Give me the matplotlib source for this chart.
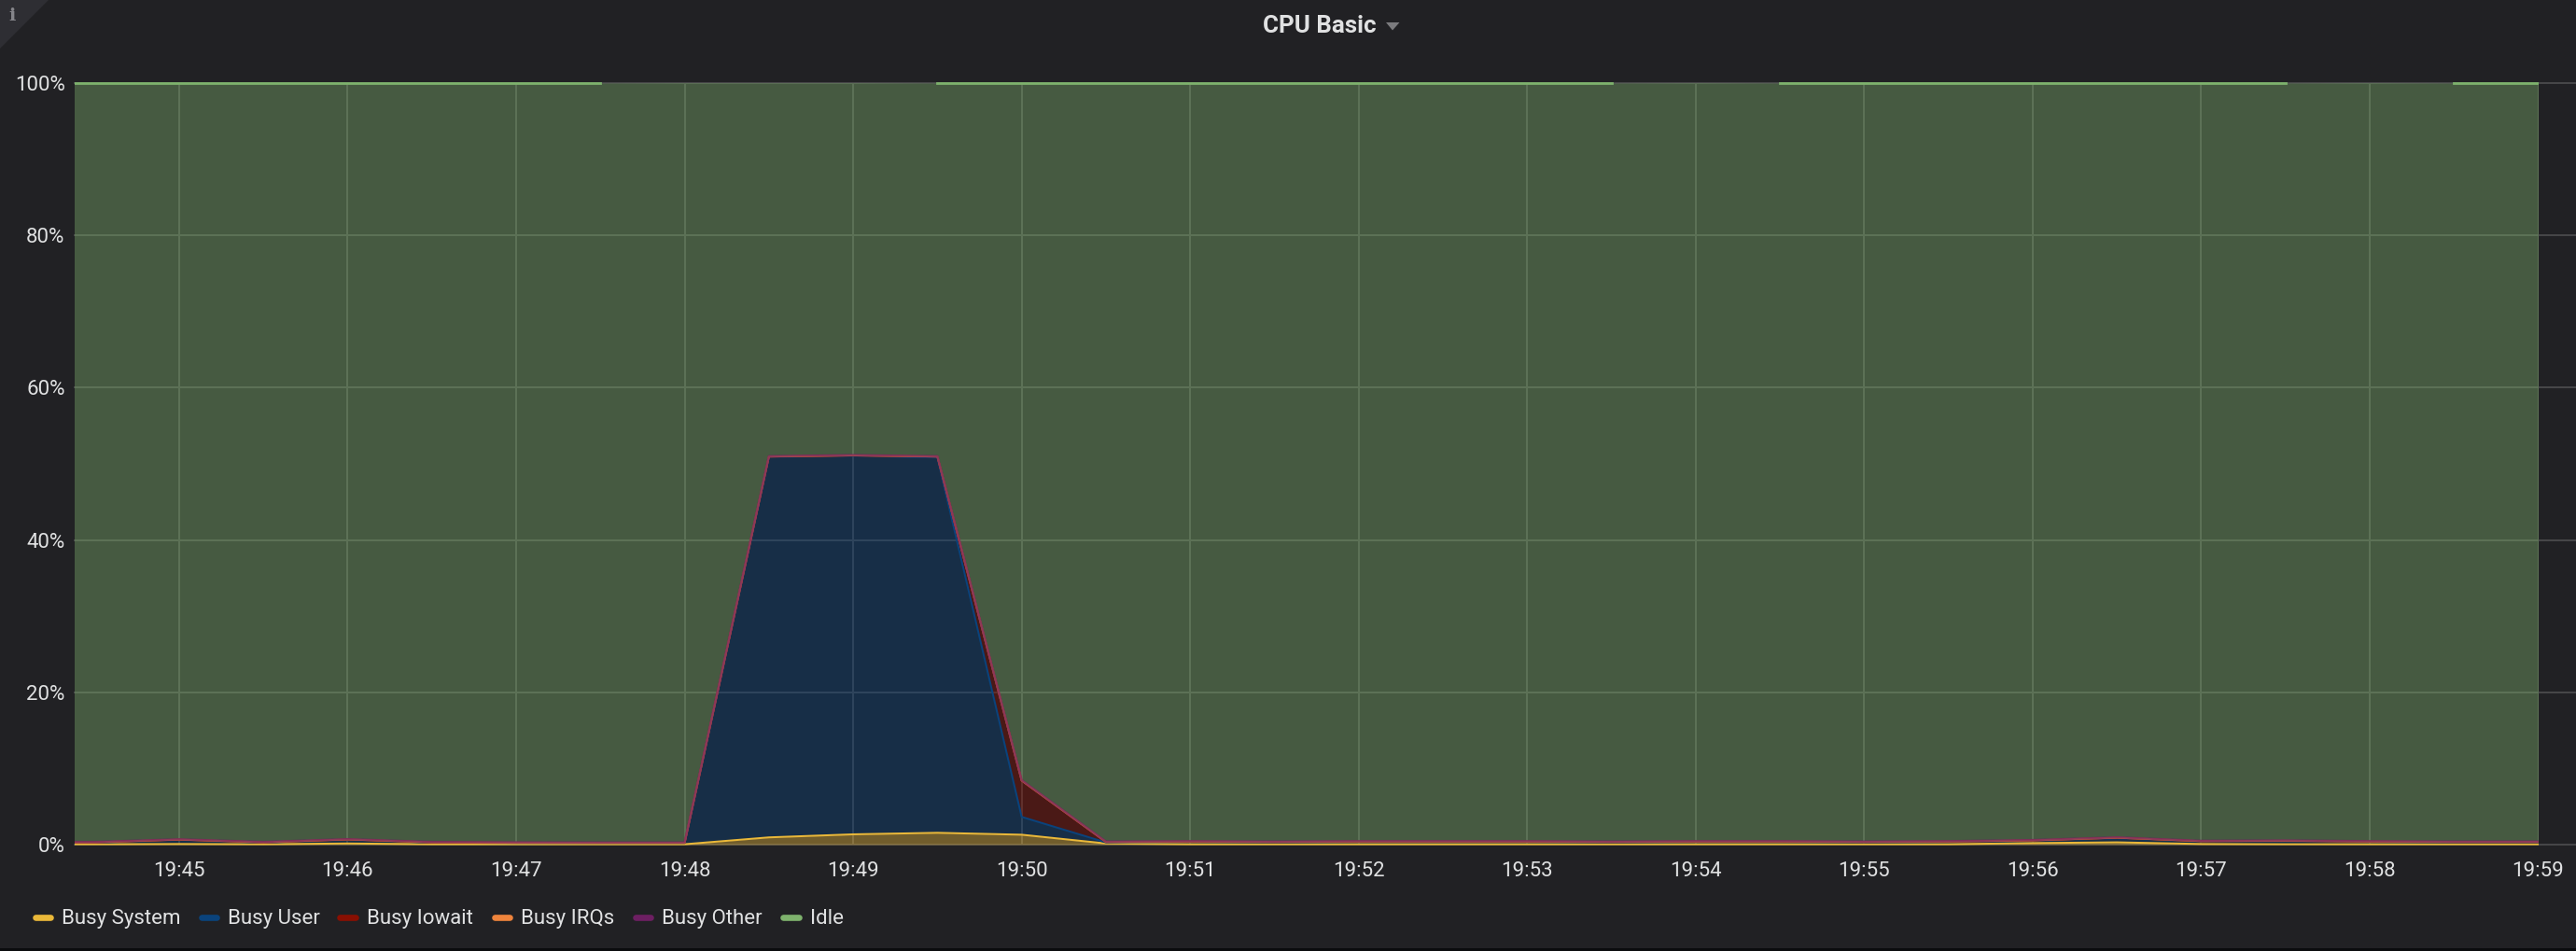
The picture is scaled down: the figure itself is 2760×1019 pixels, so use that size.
import matplotlib
matplotlib.use("Agg")
import matplotlib.pyplot as plt
import matplotlib.dates as mdates
import numpy as np
import pandas as pd
from matplotlib.patches import Polygon, Rectangle
from matplotlib.lines import Line2D
from matplotlib.transforms import Bbox, TransformedBbox, ScaledTranslation, blended_transform_factory

plt.rcParams['font.family'] = ['Roboto', 'DejaVu Sans']

times = pd.date_range("2020-01-01 19:44:00", "2020-01-01 19:59:00", freq="30s")
busy_system = [.05,.05,.08,.05,.15,.05,.05,.05,.05,.95,1.35,1.55,1.30,.15,.05,.05,.05,.05,.05,.05,.05,.05,.05,.05,.20,.30,.08,.05,.05,.05,.05]
busy_user = [.17,.22,.54,.22,.49,.22,.17,.17,.17,49.97,49.72,49.29,2.34,.14,.32,.27,.32,.32,.32,.27,.32,.32,.27,.32,.32,.54,.34,.42,.32,.27,.27]
busy_iowait = [.02,.02,.02,.02,.02,.02,.02,.01,.01,.02,.02,.10,4.75,.05,.02,.02,.02,.02,.02,.02,.02,.02,.02,.02,.02,.05,.02,.02,.02,.02,.02]
busy_irqs = [.02,.02,.02,.02,.02,.02,.02,.01,.01,.02,.02,.02,.02,.02,.02,.02,.02,.02,.02,.02,.02,.02,.02,.02,.02,.02,.02,.02,.02,.02,.02]
busy_other = [.04] * 31
idle = [99.70,99.65,99.30,99.65,99.28,99.65,99.70,99.72,99.77,49.05,48.90,49.00,91.55,99.60,99.55,99.60,99.55,99.55,99.55,99.60,99.60,99.55,99.60,99.55,99.40,99.05,99.50,99.45,99.60,99.60,99.60]

series_names = ["Busy System", "Busy User", "Busy Iowait", "Busy IRQs", "Busy Other", "Idle"]
series_values = [busy_system, busy_user, busy_iowait, busy_irqs, busy_other, idle]
series_colors = ["#EAB839", "#0A437C", "#890F02", "#EF843C", "#6D1F62", "#7EB26D"]
y_ticks = [0, 20, 40, 60, 80, 100]
y_labels = ["0%", "20%", "40%", "60%", "80%", "100%"]
x_start = "2020-01-01 19:44:22.8"
x_end = "2020-01-01 19:59:00"
title_text = "CPU Basic"

BG = "#212124"
TXT = "#E0E1E2"
GRID = "#464648"
W, H = 2760, 1020
fig = plt.figure(figsize=(W / 100, H / 100), dpi=100, facecolor=BG)
L, R, T, B = 80, 2719.5, 90, 906
ax = fig.add_axes([L / W, 1 - B / H, (R - L) / W, (B - T) / H], facecolor=BG)
xn = mdates.date2num(times)
ax.set_xlim(mdates.date2num(pd.Timestamp(x_start)), mdates.date2num(pd.Timestamp(x_end)))
ax.set_ylim(0, 100)
for s in ax.spines.values():
    s.set_visible(False)

ax.xaxis.set_major_locator(mdates.MinuteLocator())
ax.xaxis.set_major_formatter(mdates.DateFormatter("%H:%M"))
ax.set_yticks(y_ticks)
ax.set_yticklabels(y_labels)
ax.tick_params(axis='both', length=0, labelcolor=TXT, labelsize=16)
ax.tick_params(axis='x', pad=12)
ax.tick_params(axis='y', pad=7.5)
ax.set_axisbelow(True)
ax.xaxis.grid(True, color=GRID, lw=1.45, zorder=0)

# horizontal grid runs on to the right edge of the picture
tr = blended_transform_factory(ax.transAxes, ax.transData)
for v in y_ticks:
    ax.add_line(Line2D([0, (W - L) / (R - L)], [v, v], transform=tr, color=GRID, lw=1.45,
                       clip_on=False, zorder=0.5))

clip = TransformedBbox(Bbox([[ax.get_xlim()[0], -1], [ax.get_xlim()[1], 101]]), ax.transData)
bottom = np.zeros(len(xn))
z = 2
for name, vals, col in zip(series_names, series_values, series_colors):
    vals = np.array(vals)
    top = bottom + vals
    ax.fill_between(xn, bottom, top, color=col, alpha=0.4, lw=0, zorder=z)
    y = np.ma.masked_where(top > 100.02, top)
    alpha = 0.75 if name == "Busy Other" else 1.0
    lw = {"Idle": 2.0, "Busy Other": 1.7}.get(name, 1.45)
    line, = ax.plot(xn, y, color=col, lw=lw, alpha=alpha, zorder=z + 10, solid_joinstyle='round')
    line.set_clip_box(clip)
    bottom = top
    z += 1

for lab in ax.get_xticklabels():
    lab.set_clip_on(False)
fig.canvas.draw()
for lab in ax.get_yticklabels():
    lab.set_transform(lab.get_transform() + ScaledTranslation(0, 1 / 100, fig.dpi_scale_trans))

# panel header
fig.add_artist(Polygon([[0, 1], [53 / W, 1], [0, 1 - 53 / H]], closed=True, transform=fig.transFigure,
                       facecolor="#2E2E33", edgecolor="none"))
fig.text(13 / W, 1 - 17 / H, "i", color="#85858A", fontsize=14, family="DejaVu Serif", weight="bold",
         ha="center", va="center")
fig.text(1414 / W, 1 - 28 / H, title_text, color=TXT, fontsize=18.6, weight="semibold", ha="center", va="center")
fig.add_artist(Polygon([[1485 / W, 1 - 25 / H], [1499.5 / W, 1 - 25 / H], [1492 / W, 1 - 33.5 / H]], closed=True,
                       transform=fig.transFigure, facecolor="#7B7B7E", edgecolor="none"))

# legend (Grafana style, laid out by hand)
swatch_x = [34, 212, 361, 526, 677, 836]
text_x = [66, 244, 393, 558, 709, 868]
for sx, tx, name, col in zip(swatch_x, text_x, series_names, series_colors):
    fig.add_artist(Line2D([(sx + 3.5) / W, (sx + 20) / W], [1 - 983.5 / H, 1 - 983.5 / H], color=col, lw=4.8,
                          solid_capstyle='round', transform=fig.transFigure))
    fig.text(tx / W, 1 - 984.5 / H, name, color=TXT, fontsize=16, ha="left", va="center")

fig.add_artist(Rectangle((0, 0), 1, 3.5 / H, transform=fig.transFigure, facecolor="#0B0C0E", edgecolor="none"))

fig.savefig("out.png", dpi=100, facecolor=BG)
